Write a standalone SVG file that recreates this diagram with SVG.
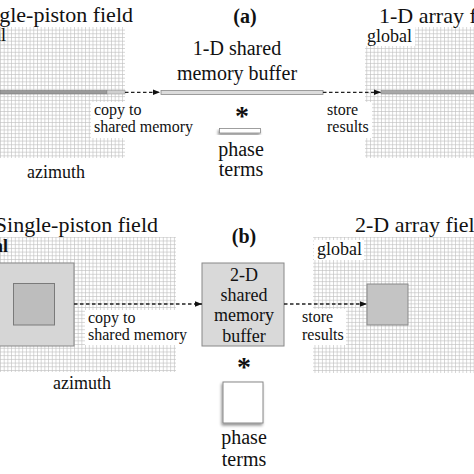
<svg xmlns="http://www.w3.org/2000/svg" width="474" height="474" viewBox="0 0 474 474">
<defs>
<pattern id="grid" width="3.7" height="3.7" patternUnits="userSpaceOnUse">
<path d="M0 0.35H3.7M0.35 0V3.7" stroke="#bdbdbd" stroke-width="0.7" fill="none"/>
</pattern>
<marker id="arr" viewBox="0 0 10 10" refX="10" refY="5" markerWidth="7" markerHeight="7" markerUnits="userSpaceOnUse" orient="auto">
<path d="M0 1L10 5L0 9z" fill="#111"/>
</marker>
<filter id="sh" x="-30%" y="-30%" width="160%" height="160%">
<feGaussianBlur in="SourceAlpha" stdDeviation="1.6"/>
<feOffset dx="-1" dy="2" result="b"/>
<feComponentTransfer><feFuncA type="linear" slope="0.45"/></feComponentTransfer>
<feMerge><feMergeNode/><feMergeNode in="SourceGraphic"/></feMerge>
</filter>
</defs>
<style>
text{font-family:"Liberation Serif","Times New Roman",serif;fill:#111}
.t{font-size:22px}
.lb{font-size:16px}
.mid{font-size:20px;text-anchor:middle}
.gl{font-size:18px}
.bold{font-weight:bold;font-size:20px;text-anchor:middle}
.ast{font-size:28px;font-weight:bold;text-anchor:middle}
.dash{stroke:#222;stroke-width:1.3;stroke-dasharray:3.5 2.5;fill:none}
.bg{fill:#fff}
</style>
<rect width="474" height="474" fill="#fff"/>

<!-- panel (a) -->
<g id="a-left-field">
<rect x="0" y="27" width="125" height="131" fill="url(#grid)"/>
<text class="t" x="133" y="22" text-anchor="end">Single-piston field</text>
<text class="gl" x="6" y="41" text-anchor="end">global</text>
<rect x="0" y="90.5" width="107" height="3.5" fill="#9a9a9a" stroke="#777" stroke-width="0.6"/>
<rect x="107" y="90.5" width="18" height="3.5" fill="#cfcfcf" stroke="#999" stroke-width="0.6"/>
<text x="27" y="178" style="font-size:18px">azimuth</text>
</g>
<g id="a-copy-label">
<rect class="bg" x="91" y="102" width="36" height="36"/>
<text class="lb" x="94" y="115">copy to</text>
<text class="lb" x="94" y="132">shared memory</text>
</g>
<g id="a-title"><text class="bold" x="245" y="23">(a)</text></g>
<g id="a-buffer">
<text class="mid" x="237" y="55">1-D shared</text>
<text class="mid" x="237" y="80">memory buffer</text>
<rect x="161" y="90.5" width="162" height="4" fill="#dcdcdc" stroke="#888" stroke-width="0.8"/>
</g>
<g id="a-conv"><text class="ast" x="242" y="125">*</text></g>
<g id="a-phase">
<rect x="219.5" y="128.5" width="41" height="4.5" fill="#fff" stroke="#888" stroke-width="0.8" filter="url(#sh)"/>
<text class="mid" x="241" y="156">phase</text>
<text class="mid" x="241" y="176">terms</text>
</g>
<g id="a-right-field">
<rect x="365" y="27" width="109" height="131" fill="url(#grid)"/>
<rect class="bg" x="365" y="27" width="50" height="19"/>
<text class="t" x="379" y="23">1-D array field</text>
<text class="gl" x="367" y="42">global</text>
<rect x="381" y="90.5" width="95" height="3.5" fill="#a8a8a8" stroke="#888" stroke-width="0.6"/>
</g>
<g id="a-store-label">
<rect class="bg" x="362" y="102" width="10" height="36"/>
<text class="lb" x="327" y="115">store</text>
<text class="lb" x="327" y="132">results</text>
</g>

<!-- panel (b) -->
<g id="b-left-field">
<rect x="0" y="237" width="176" height="135" fill="url(#grid)"/>
<text class="t" x="158" y="232" text-anchor="end">Single-piston field</text>
<text class="gl" x="8" y="252" text-anchor="end" font-weight="bold">global</text>
<rect x="-1" y="263" width="75" height="83" fill="#d6d6d6" stroke="#888" stroke-width="1"/>
<rect x="13.5" y="283.5" width="41" height="41.5" fill="#bdbdbd" stroke="#7a7a7a" stroke-width="1"/>
<text x="53" y="389" style="font-size:18px">azimuth</text>
</g>
<g id="b-copy-label">
<rect class="bg" x="85" y="310" width="92" height="35"/>
<text class="lb" x="88" y="323">copy to</text>
<text class="lb" x="88" y="340">shared memory</text>
</g>
<g id="b-title"><text class="bold" x="244" y="243">(b)</text></g>
<g id="b-buffer">
<rect x="202" y="263" width="82" height="83" fill="#d9d9d9" stroke="#888" stroke-width="1"/>
<text class="mid" x="244" y="281" style="font-size:18px">2-D</text>
<text class="mid" x="244" y="301" style="font-size:18px">shared</text>
<text class="mid" x="244" y="321" style="font-size:18px">memory</text>
<text class="mid" x="244" y="342" style="font-size:18px">buffer</text>
</g>
<g id="b-conv"><text class="ast" x="244" y="376">*</text></g>
<g id="b-phase">
<rect x="223" y="382" width="40" height="41" fill="#fff" stroke="#888" stroke-width="1" filter="url(#sh)"/>
<text class="mid" x="244" y="444">phase</text>
<text class="mid" x="244" y="466">terms</text>
</g>
<g id="b-right-field">
<rect x="313" y="237" width="161" height="136" fill="url(#grid)"/>
<text class="t" x="355" y="232">2-D array field</text>
<rect class="bg" x="314" y="240" width="50" height="20"/>
<text class="gl" x="317" y="255">global</text>
<rect x="367" y="284" width="41" height="41" fill="#c4c4c4" stroke="#888" stroke-width="1"/>
</g>
<g id="b-store-label">
<rect class="bg" x="300" y="309" width="46" height="36"/>
<text class="lb" x="302" y="322">store</text>
<text class="lb" x="302" y="340">results</text>
</g>

<g id="connectors">
<line class="dash" x1="125" y1="92.3" x2="160" y2="92.3" marker-end="url(#arr)"/>
<line class="dash" x1="323" y1="92.3" x2="381" y2="92.3" marker-end="url(#arr)"/>
<line class="dash" x1="74" y1="304" x2="202" y2="304" marker-end="url(#arr)"/>
<line class="dash" x1="284" y1="304" x2="367" y2="304" marker-end="url(#arr)"/>
</g>
</svg>
